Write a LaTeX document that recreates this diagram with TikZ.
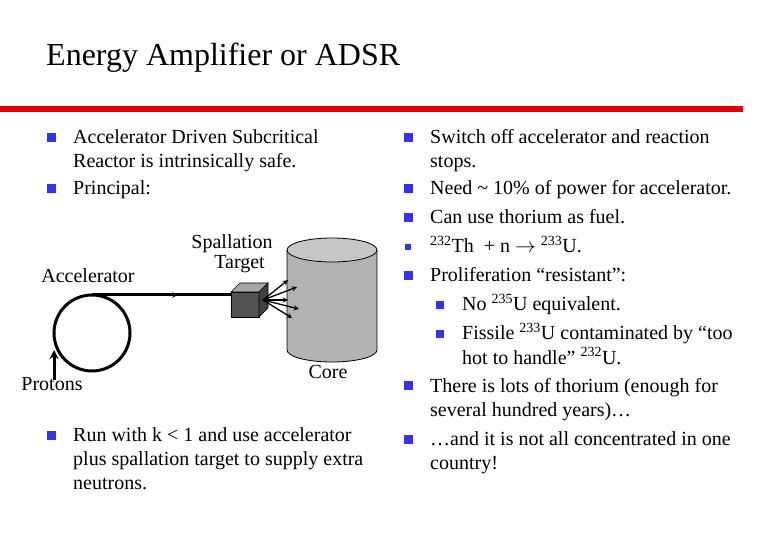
\documentclass[tikz,border=0pt]{standalone}
\usepackage{fontspec}
\setmainfont{Liberation Serif}
\definecolor{bul}{HTML}{3333EE}
\begin{document}
\begin{tikzpicture}[x=1pt,y=-1pt,
 txt/.style={anchor=base west,inner sep=0pt,font=\fontsize{20}{22}\selectfont},
 lbl/.style={inner sep=0pt,font=\fontsize{20}{22}\selectfont,align=center},
 bl/.style={fill=bul,minimum size=9pt,inner sep=0pt},
 sbl/.style={fill=bul,minimum size=6pt,inner sep=0pt},
 beam/.style={line width=3pt},
 nar/.style={line width=1.3pt,-stealth}]
\useasboundingbox (0,0) rectangle (780,540);
\node[anchor=base west,inner sep=0pt,font=\fontsize{32}{34}\selectfont] (title) at (46,66) {Energy Amplifier or ADSR};
\fill[red!90!black] (0,106) rectangle (743,112);
% left
\node[bl] (b1) at (51,138) {};
\node[txt] (t1) at (73,144) {Accelerator Driven Subcritical};
\node[txt] (t1b) at (73,168) {Reactor is intrinsically safe.};
\node[bl] (b2) at (51,189) {};
\node[txt] (t2) at (73,195) {Principal:};
\node[bl] (b3) at (51,435) {};
\node[txt] (t3) at (73,441) {Run with k < 1 and use accelerator};
\node[txt] (t3b) at (73,465) {plus spallation target to supply extra};
\node[txt] (t3c) at (73,489) {neutrons.};
% diagram
\node[lbl] (acc) at (88,276) {Accelerator};
\node[lbl] (spal) at (232,254) {Spallation\\[-2pt]\ \ \ Target};
\node[lbl] (core) at (328,372) {Core};
\node[lbl] (prot) at (52,384) {Protons};
% cylinder
\fill[gray!60] (287,250) -- (287,350) arc[start angle=180,end angle=0,x radius=45,y radius=12] -- (377,250) -- cycle;
\draw[line width=0.8pt] (287,250) -- (287,350) arc[start angle=180,end angle=0,x radius=45,y radius=12] -- (377,250);
\draw[line width=0.8pt,fill=gray!45] (332,250) ellipse[x radius=45,y radius=12];
% accelerator ring
\draw[beam] (92,333) circle[radius=38];
\coordinate (ptop) at (92,295);
\coordinate (pin) at (54,380);
\coordinate (pend) at (54,350);
\draw[line width=3pt,-stealth] (pin) -- (pend);
% cube
\coordinate (cf) at (231,295);
\draw[beam] (ptop) -- (cf);
\draw[line width=1.5pt,-stealth] (ptop) -- (178,295);
\draw[fill=gray!50!black!90,line width=0.6pt] (231,292) rectangle (259,317);
\draw[fill=gray!70,line width=0.6pt] (231,292) -- (240,283) -- (268,283) -- (259,292) -- cycle;
\draw[fill=gray!50!black,line width=0.6pt] (259,292) -- (268,283) -- (268,308) -- (259,317) -- cycle;
\coordinate (src) at (263,300);
\coordinate (n1) at (288,280);
\coordinate (n2) at (297,287);
\coordinate (n3) at (288,300);
\coordinate (n4) at (299,309);
\coordinate (n5) at (292,318);
\foreach \n in {n1,n2,n3,n4,n5} \draw[nar] (src) -- (\n);
% right
\foreach \y in {138,189,218,276,386,439} \node[bl] at (408,\y) {};
\node[sbl] (b8) at (408,247) {};
\node[bl,minimum size=8pt] (s1) at (440,305) {};
\node[bl,minimum size=8pt] (s2) at (440,334) {};
\node[txt] at (430,144) {Switch off accelerator and reaction};
\node[txt] at (430,168) {stops.};
\node[txt] at (430,195) {Need \textasciitilde{} 10\% of power for accelerator.};
\node[txt] at (430,224) {Can use thorium as fuel.};
\node[txt] at (430,253) {\textsuperscript{232}Th\ \ + n $\rightarrow$ \textsuperscript{233}U.};
\node[txt] at (430,282) {Proliferation “resistant”:};
\node[txt] at (462,311) {No \textsuperscript{235}U equivalent.};
\node[txt] at (462,340) {Fissile \textsuperscript{233}U contaminated by “too};
\node[txt] at (462,364) {hot to handle” \textsuperscript{232}U.};
\node[txt] at (430,392) {There is lots of thorium (enough for};
\node[txt] at (430,416) {several hundred years)…};
\node[txt] at (430,445) {…and it is not all concentrated in one};
\node[txt] at (430,469) {country!};
\end{tikzpicture}
\end{document}
